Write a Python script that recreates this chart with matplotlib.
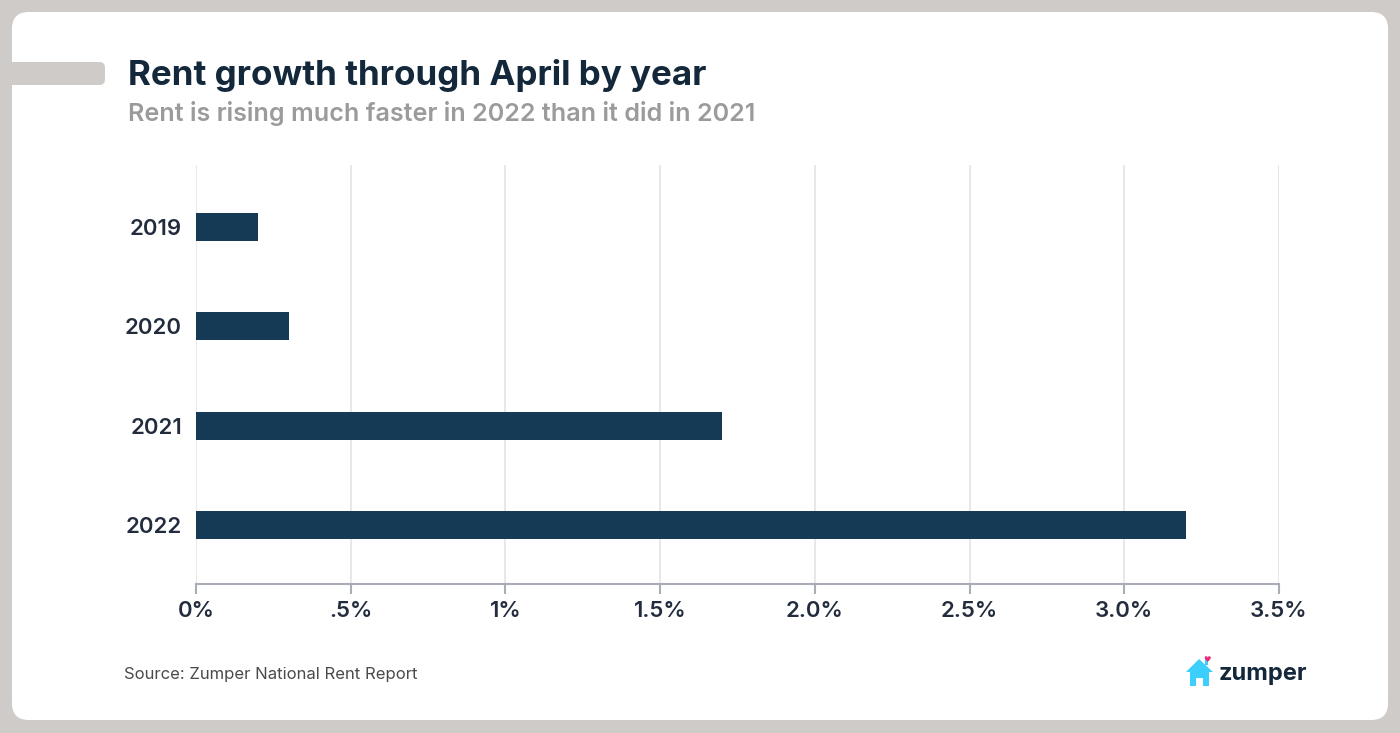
import matplotlib
matplotlib.use("Agg")
import matplotlib.pyplot as plt
from matplotlib.patches import FancyBboxPatch, Polygon, Rectangle

years = ["2019", "2020", "2021", "2022"]
growth = [0.2, 0.3, 1.7, 3.2]
xticks = [0, 0.5, 1.0, 1.5, 2.0, 2.5, 3.0, 3.5]
xticklabels = ["0%", ".5%", "1%", "1.5%", "2.0%", "2.5%", "3.0%", "3.5%"]

title = "Rent growth through April by year"
subtitle = "Rent is rising much faster in 2022 than it did in 2021"
source = "Source: Zumper National Rent Report"

W, H = 1400, 733
fig = plt.figure(figsize=(W / 100, H / 100), dpi=100)
fig.patch.set_facecolor("#cfcbc8")

def fx(x):
    return x / W

def fy(y):
    return 1 - y / H

# white card
card = FancyBboxPatch((fx(12), fy(720)), fx(1376), (708) / H,
                      boxstyle="round,pad=0,rounding_size=0.012",
                      transform=fig.transFigure, facecolor="white",
                      edgecolor="none", mutation_aspect=W / H, zorder=-5)
fig.patches.append(card)
# grey tab
tab = FancyBboxPatch((fx(0), fy(85)), fx(105), 23 / H,
                     boxstyle="round,pad=0,rounding_size=0.004",
                     transform=fig.transFigure, facecolor="#cfcbc8",
                     edgecolor="none", mutation_aspect=W / H, zorder=-4)
fig.patches.append(tab)

font = "Inter"
fig.text(fx(128), fy(76), title, fontsize=25.2, fontweight="bold",
         color="#14283b", family=font, va="center", ha="left")
fig.text(fx(128), fy(113), subtitle, fontsize=18.1, fontweight="semibold",
         color="#9b9b9b", family=font, va="center", ha="left")
fig.text(fx(124), fy(675), source, fontsize=12, color="#4a4a4a",
         family=font, va="center", ha="left")

ax = fig.add_axes([fx(196), fy(584), fx(1279 - 196), (584 - 165) / H])
ax.set_facecolor("none")
pos = list(range(len(years)))
ax.barh(pos, growth, height=0.28, color="#143a55", zorder=3)
ax.set_ylim(3.59, -0.62)
ax.set_xlim(0, 3.5)
ax.set_xticks(xticks)
ax.set_xticklabels(xticklabels)
ax.set_yticks(pos)
ax.set_yticklabels(years)
ax.grid(axis="x", color="#e4e4e4", linewidth=1.2, zorder=0)
for s in ["top", "right", "left"]:
    ax.spines[s].set_visible(False)
ax.spines["bottom"].set_color("#a9adb5")
ax.spines["bottom"].set_linewidth(1.5)
ax.tick_params(axis="x", length=7, width=1.5, color="#a9adb5", pad=5,
               labelsize=16, labelcolor="#222c3d")
ax.tick_params(axis="y", length=0, pad=10, labelsize=16, labelcolor="#222c3d")
for lab in ax.get_xticklabels() + ax.get_yticklabels():
    lab.set_family(font)
    lab.set_fontweight("semibold")

# logo: house
hx, hy = 1186, 686
house = Polygon([(fx(hx), fy(hy - 14)), (fx(hx + 13), fy(hy - 27)),
                 (fx(hx + 27), fy(hy - 14)), (fx(hx + 23), fy(hy - 14)),
                 (fx(hx + 23), fy(hy)), (fx(hx + 17), fy(hy)),
                 (fx(hx + 17), fy(hy - 8)), (fx(hx + 10), fy(hy - 8)),
                 (fx(hx + 10), fy(hy)), (fx(hx + 4), fy(hy)),
                 (fx(hx + 4), fy(hy - 14))],
                closed=True, transform=fig.transFigure,
                facecolor="#3ccffc", edgecolor="none")
fig.patches.append(house)
fig.patches.append(Rectangle((fx(hx + 19), fy(hy - 21)), fx(3), 6 / H,
                             transform=fig.transFigure, facecolor="#3ccffc",
                             edgecolor="none"))
fig.text(fx(hx + 21), fy(hy - 27), "\u2665", fontsize=6, color="#f0287a",
         ha="center", va="center", family="DejaVu Sans")
fig.text(fx(1219), fy(674), "zumper", fontsize=17, fontweight="bold",
         color="#14283b", family=font, va="center", ha="left")

fig.savefig("out.png", dpi=100, facecolor=fig.get_facecolor())
